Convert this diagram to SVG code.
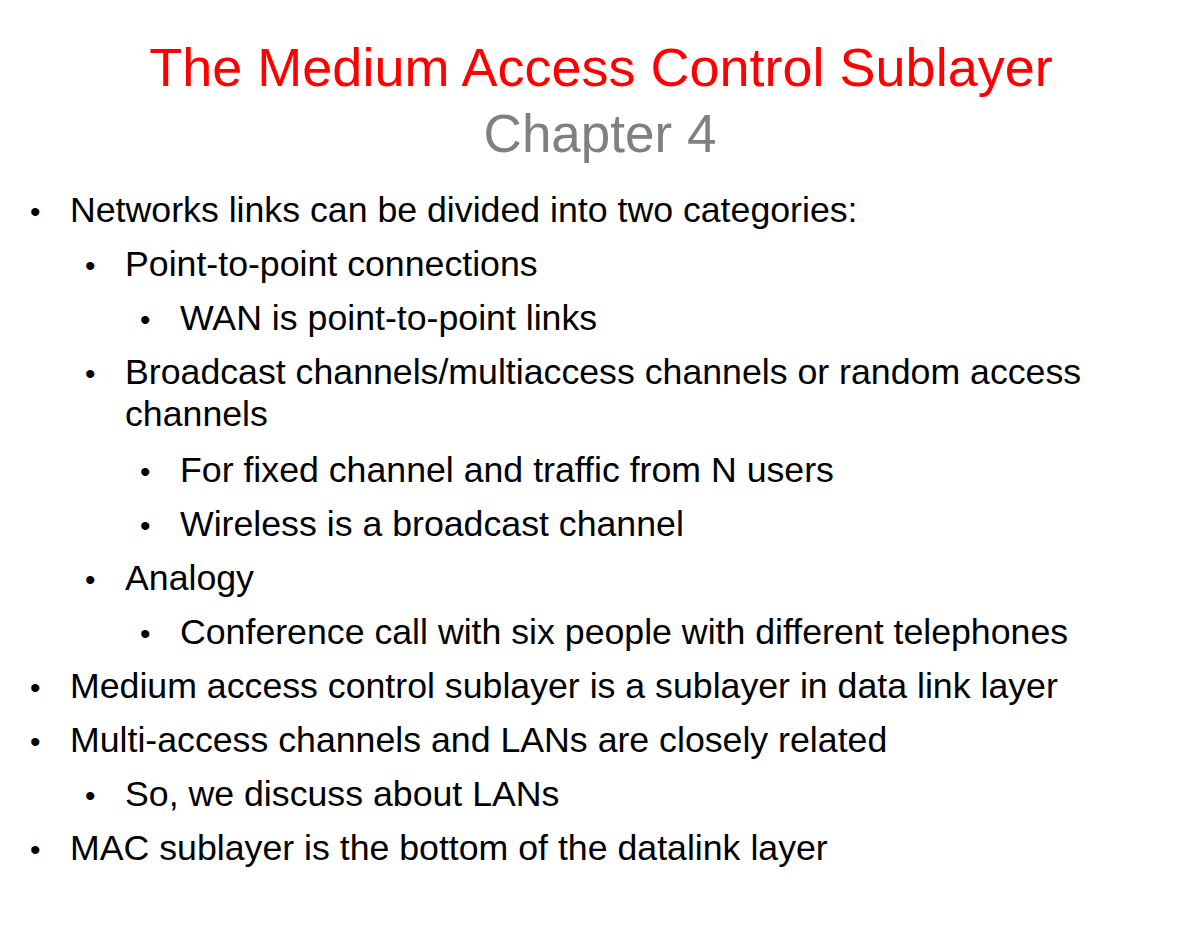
<svg xmlns="http://www.w3.org/2000/svg" width="1200" height="927" viewBox="0 0 1200 927">
<style>
text{font-family:"Liberation Sans",Arial,sans-serif}
.b{font-size:35.7px;fill:#000}
.d{font-size:30px;fill:#000}
</style>
<rect width="1200" height="927" fill="#fff"/>
<text x="601" y="86" text-anchor="middle" font-size="54" fill="#ff0000">The Medium Access Control Sublayer</text>
<text x="600" y="152" text-anchor="middle" font-size="53" fill="#808080">Chapter 4</text>
<g transform="translate(0,3)">
<text x="30" y="219" class="d">•</text><text x="70" y="219" class="b">Networks links can be divided into two categories:</text>
<text x="85" y="273" class="d">•</text><text x="125" y="273" class="b">Point-to-point connections</text>
<text x="140" y="327" class="d">•</text><text x="180" y="327" class="b">WAN is point-to-point links</text>
<text x="85" y="381" class="d">•</text><text x="125" y="381" class="b">Broadcast channels/multiaccess channels or random access</text>
<text x="125" y="423" class="b">channels</text>
<text x="140" y="479" class="d">•</text><text x="180" y="479" class="b">For fixed channel and traffic from N users</text>
<text x="140" y="533" class="d">•</text><text x="180" y="533" class="b">Wireless is a broadcast channel</text>
<text x="85" y="587" class="d">•</text><text x="125" y="587" class="b">Analogy</text>
<text x="140" y="641" class="d">•</text><text x="180" y="641" class="b">Conference call with six people with different telephones</text>
<text x="30" y="695" class="d">•</text><text x="70" y="695" class="b">Medium access control sublayer is a sublayer in data link layer</text>
<text x="30" y="749" class="d">•</text><text x="70" y="749" class="b">Multi-access channels and LANs are closely related</text>
<text x="85" y="803" class="d">•</text><text x="125" y="803" class="b">So, we discuss about LANs</text>
<text x="30" y="857" class="d">•</text><text x="70" y="857" class="b">MAC sublayer is the bottom of the datalink layer</text>
</g>
</svg>
